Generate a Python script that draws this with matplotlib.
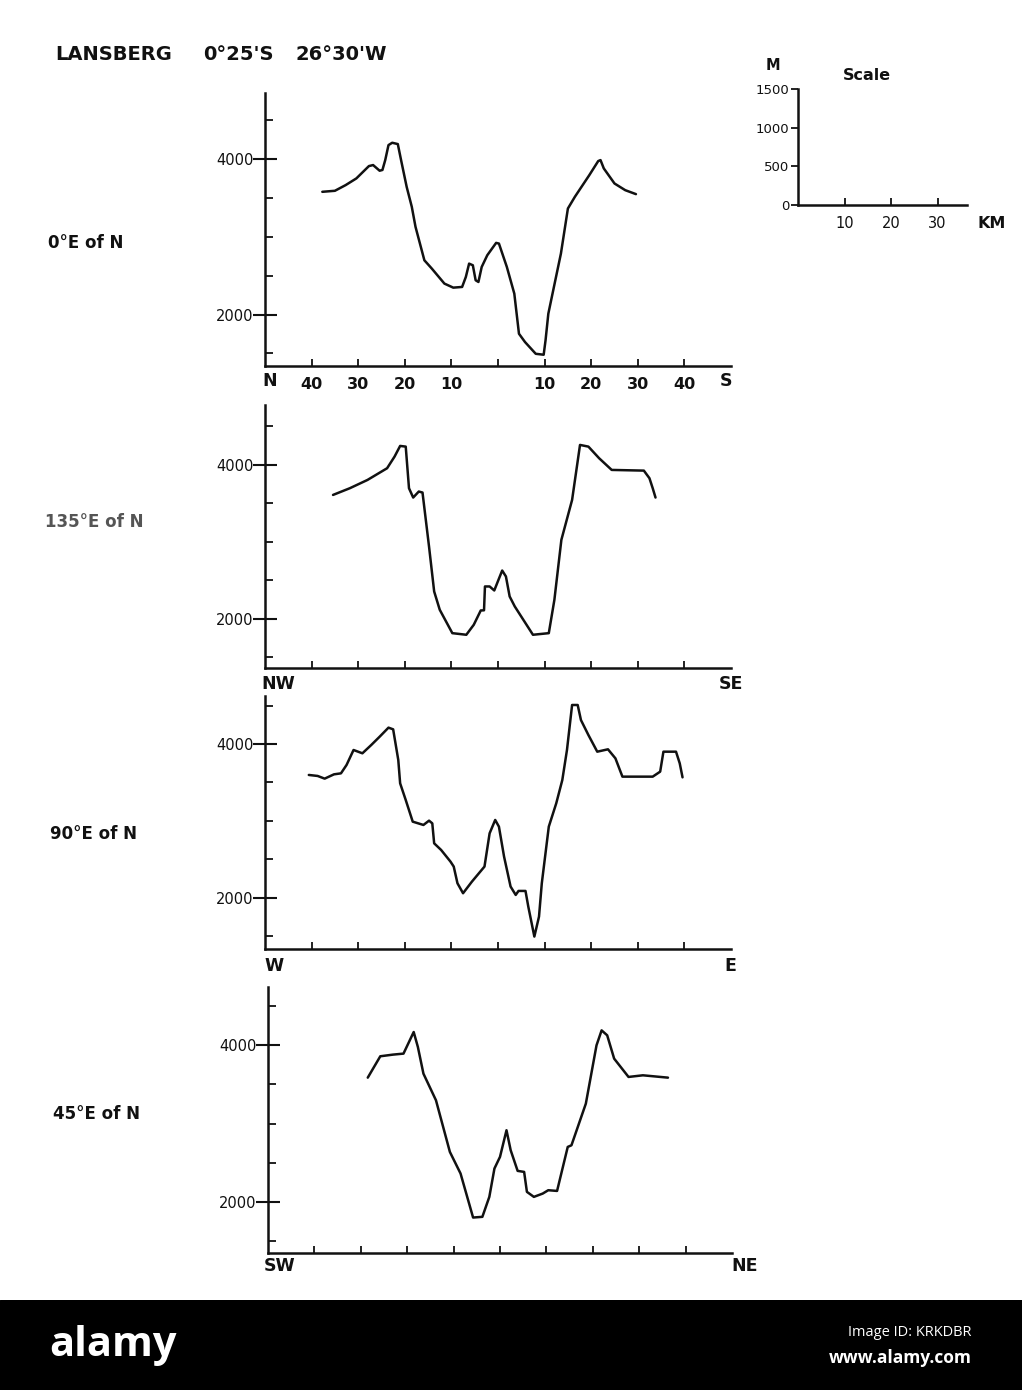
import matplotlib
matplotlib.use("Agg")
import matplotlib.pyplot as plt
import numpy as np

W, H = 1022, 1390

# ---------------- data (km along profile, elevation m) ----------------
p0_x = [-37.7, -35.0, -32.7, -30.4, -27.7, -26.8, -25.4, -24.8, -24.2, -23.5, -22.7, -21.5, -20.8,
        -19.6, -18.5, -17.7, -15.8, -14.2, -11.5, -9.6, -7.7, -6.9, -6.2, -5.4, -4.8, -4.2,
        -3.5, -2.3, -0.4, 0.2, 1.9, 3.5, 4.5, 5.8, 8.1, 9.8, 10.2, 10.8, 12.3, 13.5, 15.0,
        16.5, 19.6, 21.5, 22.0, 22.7, 25.0, 27.3, 29.6]
p0_y = [3579, 3592, 3665, 3751, 3910, 3923, 3850, 3860, 3987, 4180, 4210, 4193, 3987,
        3643, 3386, 3128, 2698, 2591, 2398, 2346, 2355, 2484, 2655, 2634, 2441, 2419,
        2612, 2763, 2922, 2913, 2612, 2269, 1753, 1646, 1495, 1483, 1667, 2011, 2441, 2784, 3364,
        3515, 3794, 3974, 3987, 3880, 3686, 3600, 3549]

p135_x = [-35.4, -31.8, -28.0, -23.8, -22.2, -21.0, -19.8, -19.1, -18.2, -17.0, -16.2, -14.8,
          -13.7, -12.5, -9.8, -6.8, -5.2, -3.7, -3.0, -2.8, -1.8, -0.8, 0.1, 0.9, 1.7, 2.5,
          3.6, 7.5, 10.9, 12.1, 13.6, 15.9, 17.6, 19.4, 21.7, 24.4, 31.3, 32.5, 33.2, 33.8]
p135_y = [3610, 3697, 3805, 3957, 4108, 4247, 4238, 3697, 3576, 3654, 3641, 2939,
          2355, 2117, 1813, 1792, 1922, 2108, 2110, 2420, 2420, 2368, 2506, 2627, 2550, 2290,
          2160, 1792, 1813, 2246, 3026, 3545, 4260, 4238, 4087, 3935, 3926, 3827, 3697, 3576]

p90_x = [-40.6, -38.7, -37.2, -35.2, -33.7, -32.5, -31.0, -29.1, -27.2, -25.4, -23.5, -22.5,
         -21.4, -21.0, -19.8, -18.3, -16.0, -14.8, -14.1, -13.7, -12.2, -10.2, -9.5, -8.7,
         -7.5, -5.6, -2.9, -1.8, -0.6, 0.2, 1.3, 2.7, 3.8, 4.4, 5.9, 6.5, 7.8, 8.8, 9.4,
         10.9, 12.5, 13.8, 14.8, 15.9, 17.1, 17.8, 19.4, 21.3, 23.6, 25.2, 26.7, 33.2,
         34.8, 35.5, 38.2, 39.0, 39.6]
p90_y = [3597, 3584, 3549, 3605, 3618, 3727, 3922, 3879, 3987, 4095, 4213, 4191,
         3792, 3488, 3271, 2989, 2946, 3002, 2967, 2707, 2620, 2469, 2404, 2187,
         2057, 2208, 2404, 2837, 3011, 2924, 2534, 2144, 2035, 2087, 2087, 1883, 1493, 1753, 2187,
         2924, 3228, 3531, 3922, 4508, 4508, 4312, 4117, 3900, 3931, 3813, 3575, 3575,
         3640, 3900, 3900, 3748, 3566]

p45_x = [-28.5, -25.8, -23.1, -20.8, -18.6, -17.7, -16.5, -13.8, -10.8, -8.5, -5.8, -3.8,
         -2.3, -1.2, 0.0, 1.4, 2.3, 3.8, 5.2, 5.8, 7.3, 9.2, 10.4, 12.3, 14.6, 15.4, 18.5,
         20.8, 21.9, 23.1, 24.6, 27.7, 30.8, 36.2]
p45_y = [3587, 3860, 3881, 3894, 4170, 3979, 3638, 3298, 2638, 2362, 1800, 1809,
         2064, 2426, 2575, 2915, 2660, 2396, 2383, 2128, 2064, 2106, 2149, 2140, 2702, 2723, 3255,
         4000, 4191, 4128, 3830, 3596, 3617, 3587]

panel_labels = ["0°E of N", "135°E of N", "90°E of N", "45°E of N"]
end_labels = [("N", "S"), ("NW", "SE"), ("W", "E"), ("SW", "NE")]
xtick_km = [-40, -30, -20, -10, 0, 10, 20, 30, 40]
xtick_lbl_p0 = ["40", "30", "20", "10", "", "10", "20", "30", "40"]
ytick_major = [2000, 4000]
ytick_minor = [1500, 2500, 3000, 3500, 4500]

scale_yticks = [0, 500, 1000, 1500]
scale_xticks = [10, 20, 30]

# ---------------- layout (pixel boxes) ----------------
boxes = [(265, 731, 93, 366), (265, 731, 405, 668), (265, 731, 696, 949), (268, 732, 987, 1253)]
ylims = [(1338, 4850), (1360, 4779), (1331, 4625), (1347, 4745)]
side_pos = [(48, 243), (45, 522), (50, 834), (53, 1114)]
end_pos = [((270, 381), (726, 381)), ((278, 684), (731, 684)),
           ((274, 966), (730, 966)), ((280, 1266), (745, 1266))]

profiles = [(p0_x, p0_y), (p135_x, p135_y), (p90_x, p90_y), (p45_x, p45_y)]

fig = plt.figure(figsize=(W / 100, H / 100), dpi=100)
fig.patch.set_facecolor("white")
FONT = "DejaVu Sans"
INK = "#111111"


def fx(px):
    return px / W


def fy(py):
    return 1 - py / H


def add_box(l, r, t, b):
    return fig.add_axes([fx(l), fy(b), (r - l) / W, (b - t) / H])


for i, ((l, r, t, b), yl, (px, py)) in enumerate(zip(boxes, ylims, profiles)):
    ax = add_box(l, r, t, b)
    ax.set_xlim(-50, 50)
    ax.set_ylim(*yl)
    ax.patch.set_alpha(0)
    for s in ("top", "right"):
        ax.spines[s].set_visible(False)
    for s in ("left", "bottom"):
        ax.spines[s].set_linewidth(1.8)
        ax.spines[s].set_color(INK)
    ax.plot(px, py, color=INK, lw=1.8, solid_joinstyle="round", solid_capstyle="round")

    ax.set_yticks(ytick_major)
    ax.set_yticklabels([str(v) for v in ytick_major], fontsize=10.5, family=FONT, color="#222222")
    ax.set_yticks(ytick_minor, minor=True)
    ax.tick_params(axis="y", which="major", direction="inout", length=17, width=1.5,
                   pad=0, colors=INK)
    ax.tick_params(axis="y", which="minor", direction="in", length=6, width=1.3, colors=INK)

    ax.set_xticks(xtick_km)
    if i == 0:
        ax.set_xticklabels(xtick_lbl_p0, fontsize=11.5, family=FONT, color=INK,
                           fontweight="bold")
    else:
        ax.set_xticklabels([])
    ax.tick_params(axis="x", which="major", direction="in", length=5, width=1.3,
                   pad=8, colors=INK)

    sx, sy = side_pos[i]
    fig.text(fx(sx), fy(sy), panel_labels[i], fontsize=12, family=FONT, fontweight="bold",
             color=INK if i != 1 else "#555555", ha="left", va="center")
    (lx, ly), (rx, ry) = end_pos[i]
    fig.text(fx(lx), fy(ly), end_labels[i][0], fontsize=12.5, family=FONT, color=INK,
             fontweight="bold", ha="center", va="center")
    fig.text(fx(rx), fy(ry), end_labels[i][1], fontsize=12.5, family=FONT, color=INK,
             fontweight="bold", ha="center", va="center")

# title
fig.text(fx(55), fy(54), "LANSBERG", fontsize=14, family=FONT, fontweight="bold", color=INK,
         ha="left", va="center")
fig.text(fx(203), fy(54), "0°25'S", fontsize=14, family=FONT, fontweight="bold", color=INK,
         ha="left", va="center")
fig.text(fx(295), fy(54), "26°30'W", fontsize=14, family=FONT, fontweight="bold", color=INK,
         ha="left", va="center")

# scale inset
sax = add_box(798, 967, 89, 205)
sax.set_xlim(0, 36.3)
sax.set_ylim(0, 1500)
sax.patch.set_alpha(0)
for s in ("top", "right"):
    sax.spines[s].set_visible(False)
for s in ("left", "bottom"):
    sax.spines[s].set_linewidth(1.8)
    sax.spines[s].set_color(INK)
sax.set_yticks(scale_yticks)
sax.set_yticklabels([str(v) for v in scale_yticks], fontsize=9.5, family=FONT, color="#222222")
sax.tick_params(axis="y", direction="out", length=5, width=1.3, pad=1, colors=INK)
sax.set_xticks(scale_xticks)
sax.set_xticklabels([str(v) for v in scale_xticks], fontsize=10.5, family=FONT, color=INK)
sax.tick_params(axis="x", direction="in", length=5, width=1.3, pad=8, colors=INK)
fig.text(fx(773), fy(65), "M", fontsize=10.5, family=FONT, color=INK, ha="center", va="center",
         fontweight="bold")
fig.text(fx(867), fy(75), "Scale", fontsize=11.5, family=FONT, color=INK, ha="center",
         va="center", fontweight="bold")
fig.text(fx(977), fy(224), "KM", fontsize=11.5, family=FONT, color=INK, ha="left", va="center",
         fontweight="bold")

# bottom band
band = fig.add_axes([0, 0, 1, 90 / H])
band.set_axis_off()
band.add_patch(plt.Rectangle((0, 0), 1, 1, transform=band.transAxes, color="black"))
fig.text(fx(49), fy(1345), "alamy", fontsize=30, family="Open Sans", fontweight="bold",
         color="white", ha="left", va="center")
fig.text(fx(972), fy(1332), "Image ID: KRKDBR", fontsize=10.5, family="Open Sans",
         color="white", ha="right", va="center")
fig.text(fx(972), fy(1358), "www.alamy.com", fontsize=12.5, family="Open Sans",
         fontweight="bold", color="white", ha="right", va="center")

fig.savefig("out.png", dpi=100, facecolor="white")
